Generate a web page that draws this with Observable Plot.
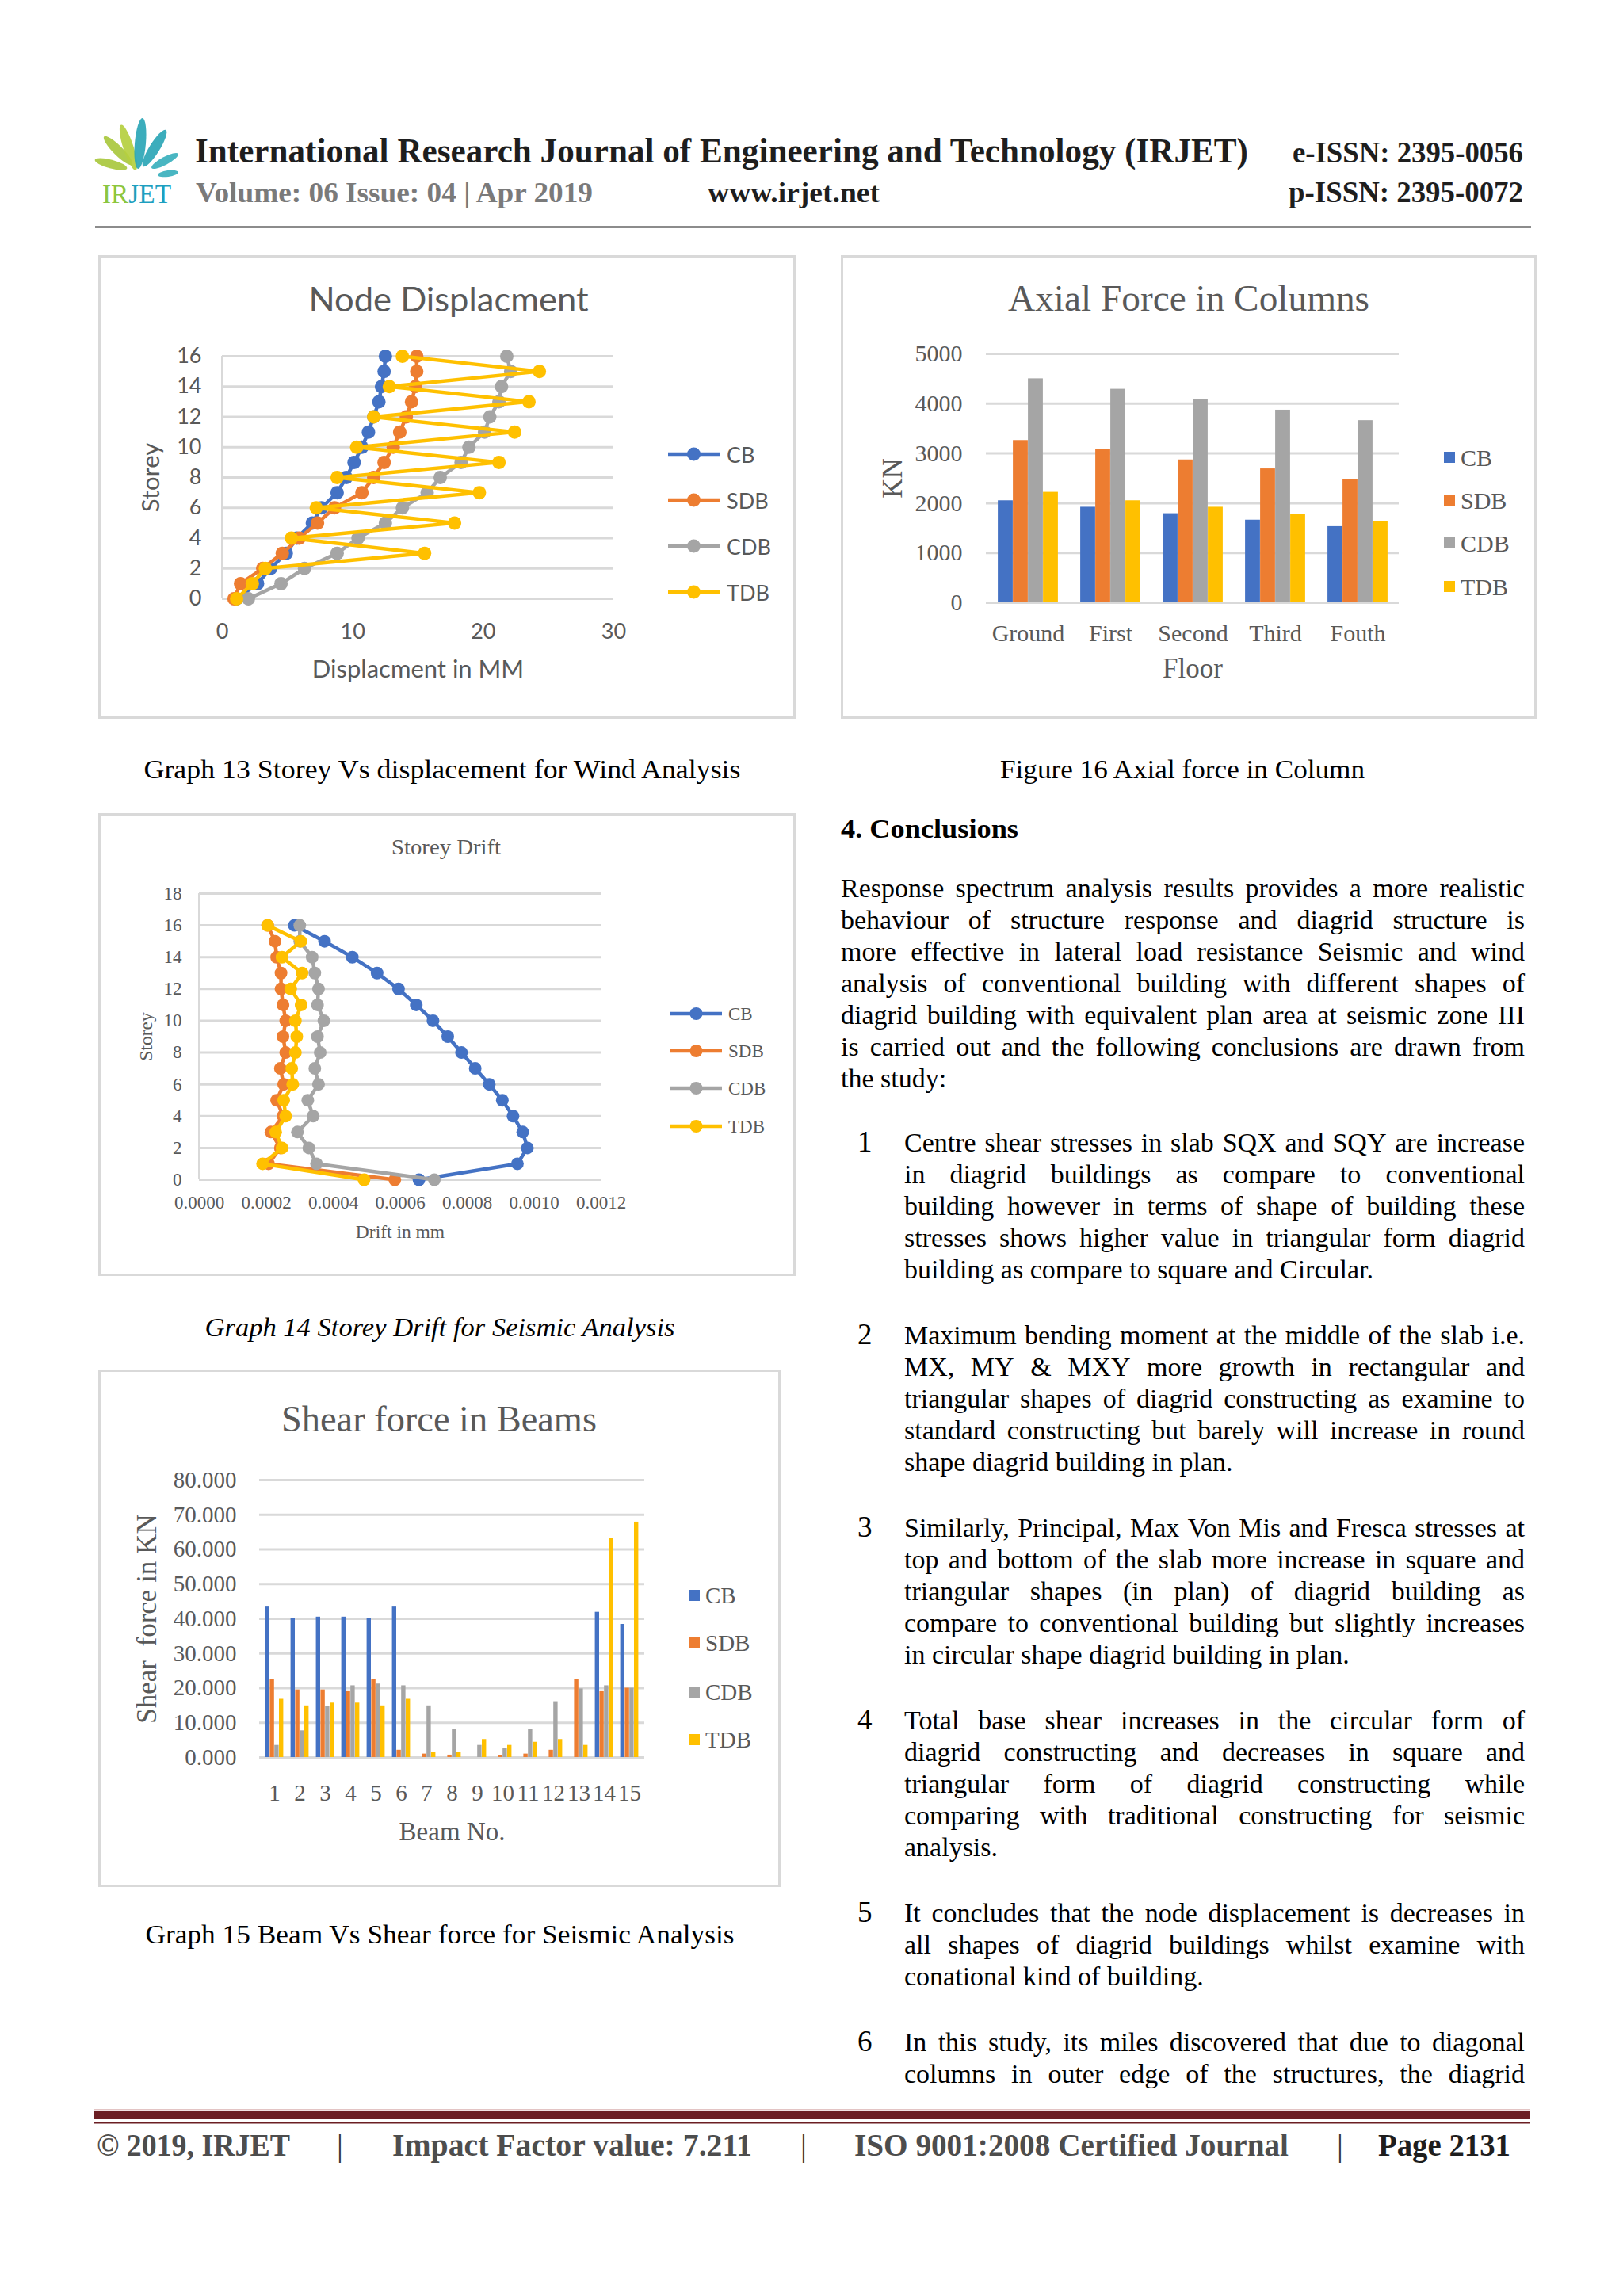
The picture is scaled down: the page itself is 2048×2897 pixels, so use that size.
<!DOCTYPE html>
<html><head><meta charset="utf-8">
<script src="https://cdn.jsdelivr.net/npm/d3@7"></script>
<script src="https://cdn.jsdelivr.net/npm/@observablehq/plot@0.6"></script>
<style>
html,body{margin:0;padding:0;background:#fff;}
#page{position:relative;width:2048px;height:2897px;overflow:hidden;background:#fff;}
.panel{position:absolute;border:3px solid #d9d9d9;box-sizing:border-box;background:#fff;}
.plot{position:absolute;}
#overlay{position:absolute;left:0;top:0;}
</style></head><body><div id="page"></div>
<script>
// ---------------- DATA ----------------
const seriesNames = ["CB", "SDB", "CDB", "TDB"];
const seriesColors = ["#4472C4", "#ED7D31", "#A5A5A5", "#FFC000"];

// Node Displacement (storey 0..16), displacement in mm
const storeys = [0,1,2,3,4,5,6,7,8,9,10,11,12,13,14,15,16];
const nodeCB  = [1.1,2.7,3.7,4.9,5.7,6.9,7.6,8.8,9.5,10.1,10.7,11.2,11.6,12.0,12.2,12.4,12.5];
const nodeSDB = [0.9,1.4,3.1,4.6,5.9,7.3,8.6,10.7,11.6,12.4,13.1,13.6,14.1,14.5,14.8,14.9,14.9];
const nodeCDB = [2.0,4.5,6.3,8.8,10.4,12.5,13.8,15.7,16.7,18.3,18.9,20.1,20.5,21.2,21.4,22.1,21.8];
const nodeTDB = [1.1,2.3,3.3,15.5,5.3,17.8,7.2,19.7,8.8,21.2,10.3,22.4,11.6,23.5,12.8,24.3,13.8];
const nodeXTicks = [0, 10, 20, 30];
const nodeYTicks = [0, 2, 4, 6, 8, 10, 12, 14, 16];

// Axial force in columns (KN)
const floors = ["Ground", "First", "Second", "Third", "Fouth"];
const axialCB  = [2050, 1920, 1790, 1660, 1530];
const axialSDB = [3260, 3080, 2870, 2690, 2470];
const axialCDB = [4500, 4290, 4080, 3870, 3660];
const axialTDB = [2220, 2050, 1920, 1770, 1630];
const axialYTicks = [0, 1000, 2000, 3000, 4000, 5000];

// Storey drift (storey 0..16), drift in mm
const driftCB  = [0.000656,0.000950,0.000980,0.000966,0.000937,0.000905,0.000866,0.000824,0.000783,0.000742,0.000698,0.000648,0.000595,0.000531,0.000457,0.000374,0.000284];
const driftSDB = [0.000584,0.000207,0.000242,0.000214,0.000250,0.000231,0.000252,0.000242,0.000258,0.000250,0.000258,0.000250,0.000244,0.000244,0.000231,0.000226,0.000204];
const driftCDB = [0.000702,0.000350,0.000327,0.000293,0.000340,0.000324,0.000356,0.000345,0.000361,0.000353,0.000372,0.000353,0.000356,0.000345,0.000337,0.000300,0.000300];
const driftTDB = [0.000492,0.000189,0.000247,0.000228,0.000258,0.000252,0.000279,0.000276,0.000287,0.000291,0.000287,0.000304,0.000273,0.000307,0.000247,0.000303,0.000204];
const driftXTicks = [0, 0.0002, 0.0004, 0.0006, 0.0008, 0.0010, 0.0012];
const driftYTicks = [0, 2, 4, 6, 8, 10, 12, 14, 16, 18];

// Shear force in beams (KN)
const beams = ["1","2","3","4","5","6","7","8","9","10","11","12","13","14","15"];
const shearCB  = [43.4,40.1,40.5,40.5,40.1,43.4,0,0,0,0,0,0,0,41.9,38.4];
const shearSDB = [22.4,19.5,19.5,19.0,22.4,2.1,1.0,0.7,0,0.6,1.0,2.1,22.4,19.0,20.0];
const shearCDB = [3.5,7.7,14.8,20.7,21.2,20.7,14.9,8.2,3.5,2.7,8.2,16.1,19.8,20.7,20.0];
const shearTDB = [16.8,14.9,15.7,15.7,14.9,16.8,1.4,1.4,5.2,3.5,4.4,5.2,3.5,63.2,67.9];
const shearYTicks = [0, 10, 20, 30, 40, 50, 60, 70, 80];

// ---------------- TEXT ----------------
const headerTitle = "International Research Journal of Engineering and Technology (IRJET)";
const eIssn = "e-ISSN: 2395-0056";
const pIssn = "p-ISSN: 2395-0072";
const volumeLine = "Volume: 06 Issue: 04 | Apr 2019";
const website = "www.irjet.net";
const footerParts = ["© 2019, IRJET", "Impact Factor value: 7.211", "ISO 9001:2008 Certified Journal", "Page 2131"];
const captions = [
  "Graph 13 Storey Vs displacement for Wind Analysis",
  "Figure 16 Axial force in Column",
  "Graph 14 Storey Drift for Seismic Analysis",
  "Graph 15 Beam Vs Shear force for Seismic Analysis"
];
const conclusionsHead = "4. Conclusions";
const introLines = [
  "Response spectrum analysis results provides a more realistic",
  "behaviour of structure response and diagrid structure is",
  "more effective in lateral load resistance Seismic and wind",
  "analysis of conventional building with different shapes of",
  "diagrid building with equivalent plan area at seismic zone III",
  "is carried out and the following conclusions are drawn from",
  "the study:"
];
const items = [
  ["Centre shear stresses in slab SQX and SQY are increase",
   "in diagrid buildings as compare to conventional",
   "building however in terms of shape of building these",
   "stresses shows higher value in triangular form diagrid",
   "building as compare to square and Circular."],
  ["Maximum bending moment at the middle of the slab i.e.",
   "MX, MY & MXY more growth in rectangular and",
   "triangular shapes of diagrid constructing as examine to",
   "standard constructing but barely will increase in round",
   "shape diagrid building in plan."],
  ["Similarly, Principal, Max Von Mis and Fresca stresses at",
   "top and bottom of the slab more increase in square and",
   "triangular shapes (in plan) of diagrid building as",
   "compare to conventional building but slightly increases",
   "in circular shape diagrid building in plan."],
  ["Total base shear increases in the circular form of",
   "diagrid constructing and decreases in square and",
   "triangular form of diagrid constructing while",
   "comparing with traditional constructing for seismic",
   "analysis."],
  ["It concludes that the node displacement is decreases in",
   "all shapes of diagrid buildings whilst examine with",
   "conational kind of building."],
  ["In this study, its miles discovered that due to diagonal",
   "columns in outer edge of the structures, the diagrid"]
];
const lastLineJustified = [false, false, false, false, false, true];

// ---------------- HELPERS ----------------
const page = d3.select("#page");
const SERIF = "Liberation Serif";
const SANS = "Lato";
const AXIS_GRAY = "#595959";

function panel(x, y, w, h) {
  page.append("div").attr("class", "panel")
    .style("left", x + "px").style("top", y + "px")
    .style("width", w + "px").style("height", h + "px");
}
function place(node, x, y) {
  page.append("div").attr("class", "plot")
    .style("left", x + "px").style("top", y + "px")
    .node().appendChild(node);
}
function rowsOf(cats, key, arrays) {
  return seriesNames.flatMap((s, i) => cats.map((c, j) => ({series: s, [key]: c, value: arrays[i][j]})));
}

function lineChart(o) {
  const rows = rowsOf(storeys, "storey", o.values);
  const marks = [
    Plot.ruleY(o.yTicks, {stroke: "#d9d9d9", strokeWidth: 3}),
    Plot.ruleX([o.xDomain[0]], {stroke: "#d9d9d9", strokeWidth: 3}),
    Plot.text([o.xTitle], {text: d => d, frameAnchor: "bottom", textAnchor: "middle", lineAnchor: "bottom", dy: o.xTitleDy, fontSize: o.titleSize, fill: AXIS_GRAY}),
    Plot.text([o.yTitle], {text: d => d, frameAnchor: "left", textAnchor: "middle", rotate: -90, lineAnchor: "middle", dx: o.yTitleDx, fontSize: o.titleSize, fill: AXIS_GRAY})
  ];
  seriesNames.forEach((s, i) => {
    const d = rows.filter(r => r.series === s);
    marks.push(Plot.line(d, {x: "value", y: "storey", stroke: seriesColors[i], strokeWidth: o.sw}));
    marks.push(Plot.dot(d, {x: "value", y: "storey", fill: seriesColors[i], r: o.r}));
  });
  return Plot.plot({
    width: o.w, height: o.h,
    marginLeft: o.ml, marginRight: o.mr, marginTop: o.mt, marginBottom: o.mb,
    style: {fontFamily: o.family, fontSize: o.size + "px", color: AXIS_GRAY, background: "transparent", overflow: "visible"},
    x: {domain: o.xDomain, ticks: o.xTicks, tickFormat: o.xFmt, tickSize: 0, tickPadding: o.xPad, label: null},
    y: {domain: o.yDomain, ticks: o.yTicks, tickSize: 0, tickPadding: o.yPad, label: null},
    marks
  });
}

function barChart(o) {
  const rows = rowsOf(o.cats, "cat", o.values);
  const step = (o.w - o.ml - o.mr) / o.cats.length;
  const bw = o.groupWidth / 4;
  const off = (step - o.groupWidth) / 2;
  const marks = [
    Plot.ruleY(o.yTicks, {stroke: "#d9d9d9", strokeWidth: 3}),
    Plot.text([o.xTitle], {text: d => d, frameAnchor: "bottom", textAnchor: "middle", lineAnchor: "bottom", dy: o.xTitleDy, fontSize: o.xTitleSize, fill: AXIS_GRAY}),
    Plot.text([o.yTitle], {text: d => d, frameAnchor: "left", textAnchor: "middle", rotate: -90, lineAnchor: "middle", dx: o.yTitleDx, fontSize: o.yTitleSize, fill: AXIS_GRAY})
  ];
  seriesNames.forEach((s, i) => {
    marks.push(Plot.barY(rows.filter(r => r.series === s), {
      x: "cat", y: "value", fill: seriesColors[i],
      insetLeft: off + i * bw, insetRight: step - off - (i + 1) * bw
    }));
  });
  return Plot.plot({
    width: o.w, height: o.h,
    marginLeft: o.ml, marginRight: o.mr, marginTop: o.mt, marginBottom: o.mb,
    style: {fontFamily: o.family, fontSize: o.size + "px", color: AXIS_GRAY, background: "transparent", overflow: "visible"},
    x: {domain: o.cats, padding: 0, tickSize: 0, tickPadding: o.xPad, label: null},
    y: {domain: o.yDomain, ticks: o.yTicks, tickFormat: o.yFmt, tickSize: 0, tickPadding: o.yPad, label: null},
    marks
  });
}

// ---------------- PANELS + CHARTS ----------------
panel(124, 322, 880, 585);
panel(1061, 322, 878, 585);
panel(124, 1026, 880, 584);
panel(124, 1728, 861, 653);

place(lineChart({
  values: [nodeCB, nodeSDB, nodeCDB, nodeTDB],
  w: 880, h: 585, ml: 156, mr: 230, mt: 127, mb: 152,
  xDomain: [0, 30], xTicks: nodeXTicks, xFmt: d3.format("d"), yDomain: [0, 16], yTicks: nodeYTicks,
  family: SANS, size: 27, xPad: 31, yPad: 26,
  xTitle: "Displacment in MM", yTitle: "Storey", xTitleDy: 99, yTitleDx: -89, titleSize: 31,
  sw: 4.5, r: 8.5
}), 124, 322);

place(barChart({
  cats: floors, values: [axialCB, axialSDB, axialCDB, axialTDB],
  w: 878, h: 585, ml: 183, mr: 174, mt: 124, mb: 147,
  yDomain: [0, 5000], yTicks: axialYTicks, yFmt: d3.format("d"),
  family: SERIF, size: 30, xPad: 27, yPad: 30, groupWidth: 76,
  xTitle: "Floor", yTitle: "KN", xTitleDy: 94, yTitleDx: -118, xTitleSize: 35, yTitleSize: 35
}), 1061, 322);

place(lineChart({
  values: [driftCB, driftSDB, driftCDB, driftTDB],
  w: 880, h: 584, ml: 127, mr: 246, mt: 101, mb: 122,
  xDomain: [0, 0.0012], xTicks: driftXTicks, xFmt: d3.format(".4f"), yDomain: [0, 18], yTicks: driftYTicks,
  family: SERIF, size: 23, xPad: 20, yPad: 22,
  xTitle: "Drift in mm", yTitle: "Storey", xTitleDy: 73, yTitleDx: -67, titleSize: 23.5,
  sw: 4.5, r: 8
}), 124, 1026);

place(barChart({
  cats: beams, values: [shearCB, shearSDB, shearCDB, shearTDB],
  w: 861, h: 653, ml: 203, mr: 172, mt: 139, mb: 164,
  yDomain: [0, 80], yTicks: shearYTicks, yFmt: d3.format(".3f"),
  family: SERIF, size: 29, xPad: 34, yPad: 29, groupWidth: 23.2,
  xTitle: "Beam No.", yTitle: "Shear  force in KN", xTitleDy: 104, yTitleDx: -142, xTitleSize: 33, yTitleSize: 35
}), 124, 1728);

// ---------------- OVERLAY (page text, legends, logo) ----------------
const svg = page.append("svg").attr("id", "overlay").attr("width", 2048).attr("height", 2897);
const ctx = document.createElement("canvas").getContext("2d");
function measure(str, font) { ctx.font = font; return ctx.measureText(str).width; }

function addText(str, x, y, o) {
  const size = o.size, family = o.family || SERIF, weight = o.weight || "normal", style = o.style || "normal";
  const font = `${style} ${weight} ${size}px "${family}"`;
  const t = svg.append("text").attr("x", x).attr("y", y)
    .attr("font-family", family).attr("font-size", size).attr("font-weight", weight).attr("font-style", style)
    .attr("fill", o.fill || "#000").attr("text-anchor", o.anchor || "start");
  if (o.baseline) t.attr("dominant-baseline", o.baseline);
  if (o.justify) {
    const words = str.split(" ");
    const ws = words.map(w => measure(w, font));
    const gap = (o.width - d3.sum(ws)) / (words.length - 1);
    if (gap >= size * 0.14) {
      let cx = x;
      words.forEach((w, i) => {
        t.append("tspan").attr("x", cx).text(w + (i < words.length - 1 ? " " : ""));
        cx += ws[i] + gap;
      });
      return t;
    }
    t.text(str).attr("textLength", o.width).attr("lengthAdjust", "spacingAndGlyphs");
    return t;
  }
  t.text(str);
  if (o.width) t.attr("textLength", o.width).attr("lengthAdjust", "spacingAndGlyphs");
  else if (o.maxWidth && measure(str, font) > o.maxWidth) t.attr("textLength", o.maxWidth).attr("lengthAdjust", "spacingAndGlyphs");
  return t;
}

// Logo
const leaves = [
  {cx: 140, cy: 207, rx: 21, ry: 5.5, a: 15, c: "#a9c83e"},
  {cx: 149, cy: 190, rx: 25, ry: 6, a: 45, c: "#a9c83e"},
  {cx: 162, cy: 186, rx: 30, ry: 6.5, a: 72, c: "#b5cf3f"},
  {cx: 177, cy: 181, rx: 32, ry: 7, a: 95, c: "#2ba6b6"},
  {cx: 195, cy: 187, rx: 27, ry: 6.5, a: 122, c: "#2ba6b6"},
  {cx: 208, cy: 203, rx: 19, ry: 5, a: 152, c: "#3ab0bd"},
  {cx: 212, cy: 219, rx: 13, ry: 4, a: 172, c: "#3ab0bd"}
];
svg.append("g").selectAll("ellipse").data(leaves).join("ellipse")
  .attr("transform", d => `translate(${d.cx},${d.cy}) rotate(${d.a})`)
  .attr("rx", d => d.rx).attr("ry", d => d.ry).attr("fill", d => d.c).attr("opacity", 0.92);
const logoT = svg.append("text").attr("x", 129).attr("y", 256).attr("font-family", SERIF).attr("font-size", 34)
  .attr("textLength", 87).attr("lengthAdjust", "spacingAndGlyphs");
logoT.append("tspan").attr("fill", "#8cc63e").text("IR");
logoT.append("tspan").attr("fill", "#1e9fc0").text("JET");

// Header
addText(headerTitle, 246, 205, {size: 44, weight: "bold", fill: "#1e1e1e", width: 1329});
addText(eIssn, 1631, 205, {size: 38, weight: "bold", fill: "#1e1e1e", width: 291});
addText(volumeLine, 247, 255, {size: 36, weight: "bold", fill: "#7a7a7a", width: 501});
addText(website, 893, 255, {size: 36, weight: "bold", fill: "#1e1e1e", width: 217});
addText(pIssn, 1626, 255, {size: 38, weight: "bold", fill: "#1e1e1e", width: 296});
svg.append("rect").attr("x", 120).attr("y", 285).attr("width", 1812).attr("height", 3).attr("fill", "#8c8c8c");

// Chart titles
addText("Node Displacment", 566, 393, {size: 43, family: SANS, fill: AXIS_GRAY, anchor: "middle", width: 353});
addText("Axial Force in Columns", 1500, 392, {size: 47, fill: AXIS_GRAY, anchor: "middle", width: 456});
addText("Storey Drift", 563, 1078, {size: 28, fill: AXIS_GRAY, anchor: "middle", width: 138});
addText("Shear  force  in  Beams", 554, 1806, {size: 46, fill: AXIS_GRAY, anchor: "middle", width: 398});

// Legends
function lineLegend(x1, x2, lx, ys, size, family, r) {
  seriesNames.forEach((s, i) => {
    svg.append("line").attr("x1", x1).attr("x2", x2).attr("y1", ys[i]).attr("y2", ys[i])
      .attr("stroke", seriesColors[i]).attr("stroke-width", 4.5);
    svg.append("circle").attr("cx", (x1 + x2) / 2).attr("cy", ys[i]).attr("r", r).attr("fill", seriesColors[i]);
    addText(s, lx, ys[i], {size, family, fill: AXIS_GRAY, baseline: "central"});
  });
}
function boxLegend(x, sz, lx, ys, size) {
  seriesNames.forEach((s, i) => {
    svg.append("rect").attr("x", x).attr("y", ys[i] - sz / 2).attr("width", sz).attr("height", sz).attr("fill", seriesColors[i]);
    addText(s, lx, ys[i], {size, fill: AXIS_GRAY, baseline: "central"});
  });
}
lineLegend(843, 908, 917, [573, 631, 689, 747], 27, SANS, 8.5);
boxLegend(1822, 14, 1843, [577, 631, 685, 740], 30);
lineLegend(846, 911, 919, [1279, 1326, 1373, 1421], 23, SERIF, 8);
boxLegend(869, 14, 890, [2013, 2073, 2135, 2195], 29);

// Captions
addText(captions[0], 558, 982, {size: 34, anchor: "middle", width: 753});
addText(captions[1], 1492, 982, {size: 34, anchor: "middle", width: 460});
addText(captions[2], 555, 1686, {size: 34, style: "italic", anchor: "middle", width: 593});
addText(captions[3], 555, 2452, {size: 34, anchor: "middle", width: 743});

// Conclusions
addText(conclusionsHead, 1061, 1057, {size: 34, weight: "bold", width: 224});
introLines.forEach((ln, i) => {
  const last = i === introLines.length - 1;
  addText(ln, 1061, 1132 + i * 40, last ? {size: 34, maxWidth: 863} : {size: 34, justify: true, width: 863});
});
let base = 1453;
items.forEach((lines, k) => {
  addText(String(k + 1), 1082, base, {size: 37});
  lines.forEach((ln, i) => {
    const last = i === lines.length - 1;
    const just = !last || lastLineJustified[k];
    addText(ln, 1141, base + i * 40, just ? {size: 34, justify: true, width: 783} : {size: 34, maxWidth: 783});
  });
  base += (lines.length - 1) * 40 + 83;
});

// Footer
svg.append("rect").attr("x", 119).attr("y", 2661).attr("width", 1812).attr("height", 1.5).attr("fill", "#e3c4c4");
svg.append("rect").attr("x", 119).attr("y", 2664).attr("width", 1812).attr("height", 10).attr("fill", "#6b1e23");
svg.append("rect").attr("x", 119).attr("y", 2677).attr("width", 1812).attr("height", 2.5).attr("fill", "#6b1e23");
addText(footerParts[0], 122, 2720, {size: 39, weight: "bold", fill: "#4d4d4d", width: 244});
addText(footerParts[1], 495, 2720, {size: 39, weight: "bold", fill: "#4d4d4d", width: 454});
addText(footerParts[2], 1078, 2720, {size: 39, weight: "bold", fill: "#4d4d4d", width: 548});
addText(footerParts[3], 1739, 2720, {size: 39, weight: "bold", fill: "#1e1e1e", width: 167});
[429, 1014, 1691].forEach(x => addText("|", x, 2720, {size: 39, fill: "#333", anchor: "middle"}));
</script></body></html>
